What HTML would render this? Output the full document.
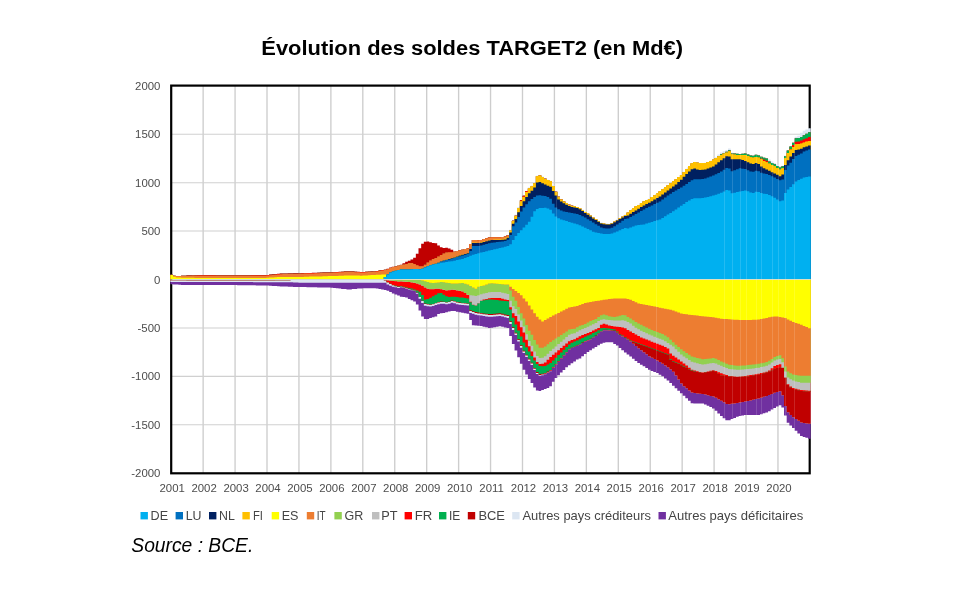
<!DOCTYPE html>
<html><head><meta charset="utf-8"><title>TARGET2</title>
<style>
html,body{margin:0;padding:0;background:#fff;}
body{width:957px;height:598px;overflow:hidden;font-family:"Liberation Sans",sans-serif;}
svg{display:block;will-change:transform;}
text{font-family:"Liberation Sans",sans-serif;}
</style></head><body>
<svg width="957" height="598" viewBox="0 0 957 598">
<rect width="957" height="598" fill="#ffffff"/>
<text x="261.3" y="55.2" font-size="19.6" font-weight="bold" fill="#000" textLength="421.8" lengthAdjust="spacingAndGlyphs">Évolution des soldes TARGET2 (en Md€)</text>
<g stroke="#d0d0d0" stroke-width="1.05">
<line x1="203.13" y1="85.8" x2="203.13" y2="473.2" stroke-width="1.35" stroke="#cdcdcd"/>
<line x1="235.07" y1="85.8" x2="235.07" y2="473.2" stroke-width="1.35" stroke="#cdcdcd"/>
<line x1="267.00" y1="85.8" x2="267.00" y2="473.2" stroke-width="1.35" stroke="#cdcdcd"/>
<line x1="298.94" y1="85.8" x2="298.94" y2="473.2" stroke-width="1.35" stroke="#cdcdcd"/>
<line x1="330.88" y1="85.8" x2="330.88" y2="473.2" stroke-width="1.35" stroke="#cdcdcd"/>
<line x1="362.81" y1="85.8" x2="362.81" y2="473.2" stroke-width="1.35" stroke="#cdcdcd"/>
<line x1="394.75" y1="85.8" x2="394.75" y2="473.2" stroke-width="1.35" stroke="#cdcdcd"/>
<line x1="426.68" y1="85.8" x2="426.68" y2="473.2" stroke-width="1.35" stroke="#cdcdcd"/>
<line x1="458.62" y1="85.8" x2="458.62" y2="473.2" stroke-width="1.35" stroke="#cdcdcd"/>
<line x1="490.55" y1="85.8" x2="490.55" y2="473.2" stroke-width="1.35" stroke="#cdcdcd"/>
<line x1="522.49" y1="85.8" x2="522.49" y2="473.2" stroke-width="1.35" stroke="#cdcdcd"/>
<line x1="554.42" y1="85.8" x2="554.42" y2="473.2" stroke-width="1.35" stroke="#cdcdcd"/>
<line x1="586.36" y1="85.8" x2="586.36" y2="473.2" stroke-width="1.35" stroke="#cdcdcd"/>
<line x1="618.29" y1="85.8" x2="618.29" y2="473.2" stroke-width="1.35" stroke="#cdcdcd"/>
<line x1="650.23" y1="85.8" x2="650.23" y2="473.2" stroke-width="1.35" stroke="#cdcdcd"/>
<line x1="682.16" y1="85.8" x2="682.16" y2="473.2" stroke-width="1.35" stroke="#cdcdcd"/>
<line x1="714.10" y1="85.8" x2="714.10" y2="473.2" stroke-width="1.35" stroke="#cdcdcd"/>
<line x1="746.03" y1="85.8" x2="746.03" y2="473.2" stroke-width="1.35" stroke="#cdcdcd"/>
<line x1="777.97" y1="85.8" x2="777.97" y2="473.2" stroke-width="1.35" stroke="#cdcdcd"/>
<line x1="171.2" y1="134.22" x2="809.9" y2="134.22"/>
<line x1="171.2" y1="182.65" x2="809.9" y2="182.65"/>
<line x1="171.2" y1="231.07" x2="809.9" y2="231.07"/>
<line x1="171.2" y1="279.50" x2="809.9" y2="279.50"/>
<line x1="171.2" y1="327.93" x2="809.9" y2="327.93"/>
<line x1="171.2" y1="376.35" x2="809.9" y2="376.35"/>
<line x1="171.2" y1="424.77" x2="809.9" y2="424.77"/>
</g>
<rect x="171.2" y="85.6" width="638.5" height="387.7" fill="none" stroke="#000" stroke-width="2.2"/>
<defs><clipPath id="cp"><path d="M170.40,279.5V274.8H173.07V275.7H175.74V276H178.40V275.9H181.07V275.8H183.74V275.7H186.41V275.6H189.08V275.5H191.74V275.4H194.41V275.3H197.08V275.2H199.75V275.1H213.09V275.2H226.43V275.3H242.43V275.2H255.77V275.1H266.45V274.9H269.11V274.6H271.78V274.3H274.45V274H277.12V273.8H279.78V273.6H282.45V273.5H287.79V273.4H293.12V273.3H295.79V273.2H301.13V273.1H303.80V273H309.13V272.9H311.80V272.8H314.47V272.7H319.80V272.6H322.47V272.5H325.14V272.4H330.48V272.3H333.14V272.1H335.81V272H338.48V271.8H341.15V271.7H343.81V271.5H346.48V271.4H351.82V271.5H354.49V271.7H357.15V271.8H359.82V271.9H365.16V271.8H367.83V271.6H370.49V271.5H373.16V271.4H375.83V271H378.50V270.6H381.17V270.1H383.83V269.7H386.50V268.8H389.17V267.5H391.84V266.7H394.51V266.6H397.17V265.8H399.84V264.8H402.51V263.2H405.18V261.8H407.84V260.7H410.51V259.5H413.18V257.7H415.85V253.7H418.52V248.3H421.18V243.7H423.85V241.7H426.52V241.6H429.19V242.3H431.86V242.9H434.52V243.3H437.19V245.4H439.86V247.3H442.53V247.9H445.20V247.8H447.86V248.5H450.53V249.7H453.20V251.7H455.87V250.9H458.54V250.2H461.20V249.7H463.87V249.1H466.54V248.6H469.21V244.1H471.87V240H474.54V240.1H477.21V240.2H479.88V239.9H482.55V239.1H485.21V238.3H487.88V237.5H490.55V237.3H501.22V236.9H503.89V236.6H506.56V235H509.23V229.8H511.89V220.1H514.56V214.8H517.23V207H519.90V200.3H522.57V195.7H525.23V191H527.90V187.4H530.57V185.6H533.24V182.8H535.90V175.8H538.57V175.1H541.24V176.6H543.91V178.4H546.58V179.7H549.24V180.8H551.91V185.6H554.58V191.3H557.25V196.4H559.92V199.1H562.58V201.1H565.25V202.8H567.92V204.5H570.59V205.6H573.26V206.2H575.92V206.9H578.59V208.1H581.26V209.8H583.93V211.5H586.60V213.3H589.26V215.3H591.93V217.3H594.60V219.1H597.27V220.8H599.93V222.5H602.60V223.3H605.27V223.5H607.94V223.7H610.61V223H613.27V221.3H615.94V219.6H618.61V218H621.28V216.4H623.95V214.6H626.61V212.5H629.28V210.4H631.95V208.4H634.62V206.4H637.29V204.8H639.95V203.1H642.62V201.4H645.29V200.1H647.96V198.7H650.63V197H653.29V195.2H655.96V193.3H658.63V191.4H661.30V189.4H663.96V187.4H666.63V185.4H669.30V183.4H671.97V181.4H674.64V179.4H677.30V177.1H679.97V174.7H682.64V171.8H685.31V168.8H687.98V166H690.64V163.2H693.31V162.1H695.98V162.6H698.65V163.1H701.32V163H703.98V162.7H706.65V161.9H709.32V160.7H711.99V159.5H714.66V157.2H717.32V154.5H719.99V152.5H722.66V151.2H725.33V149.9H727.99V148.6H730.66V152.5H733.33V153.1H736.00V153.7H738.67V154.2H741.33V153.8H744.00V153.3H746.67V154.2H749.34V155.5H752.01V155.7H754.67V154.7H757.34V155.1H760.01V156.7H762.68V157.7H765.35V158.4H768.01V159.6H770.68V161.4H773.35V163.1H776.02V164.6H778.69V166.1H781.35V165.8H784.02V155.6H786.69V150.2H789.36V146.6H792.02V142.8H794.69V136.8H797.36V135.7H800.03V132.7H802.70V130.7H805.36V129.5H808.03V128.2H810.70V279.5Z"/><path d="M170.40,279.5V284.3H173.07V284.5H175.74V284.6H178.40V284.8H181.07V284.9H202.42V285H221.09V285.1H237.10V285.2H245.10V285.3H255.77V285.4H263.78V285.5H266.45V285.6H269.11V285.8H271.78V285.9H274.45V286.1H277.12V286.3H279.78V286.4H282.45V286.5H285.12V286.6H287.79V286.7H290.46V286.8H293.12V286.9H295.79V287H301.13V287.1H306.46V287.2H311.80V287.3H317.14V287.4H319.80V287.5H325.14V287.6H330.48V287.8H333.14V288H335.81V288.3H338.48V288.6H341.15V288.9H343.81V289.1H346.48V289.4H351.82V289.1H354.49V288.9H357.15V288.6H359.82V288.4H362.49V288.3H375.83V288.6H378.50V289H381.17V289.5H383.83V289.9H386.50V290.8H389.17V292.1H391.84V293.4H394.51V294.4H397.17V295.5H399.84V296.7H402.51V297H405.18V297.6H407.84V298.9H410.51V300.3H413.18V301.6H415.85V304.5H418.52V310.4H421.18V316.5H423.85V319.1H426.52V319H429.19V318H431.86V317.2H434.52V316.5H437.19V314H439.86V313.2H442.53V312.9H445.20V312.3H447.86V311.6H450.53V311H453.20V311.1H455.87V311.7H458.54V312.2H461.20V312.7H463.87V313.3H466.54V313.8H469.21V320.1H471.87V325.3H474.54V325.6H477.21V325.8H479.88V326.1H482.55V326.7H485.21V327.3H487.88V328H490.55V327.8H493.22V327.3H495.89V326.8H498.55V326.2H501.22V326.8H503.89V327.5H506.56V328.1H509.23V336.1H511.89V343.9H514.56V350.6H517.23V357.3H519.90V363.7H522.57V369.7H525.23V374.5H527.90V378.9H530.57V382.9H533.24V387.5H535.90V390.6H538.57V391H541.24V390.1H543.91V389H546.58V387.9H549.24V386.3H551.91V381.8H554.58V377.9H557.25V375.2H559.92V372.5H562.58V369.9H565.25V367.2H567.92V365.2H570.59V363.3H573.26V361.4H575.92V359.5H578.59V358.6H581.26V356.3H583.93V354H586.60V351.9H589.26V350.3H591.93V348.6H594.60V346.9H597.27V345.3H599.93V343.8H602.60V342.7H605.27V342.2H610.61V342.3H613.27V343.9H615.94V345.6H618.61V347.9H621.28V350.3H623.95V352.4H626.61V354.4H629.28V356.4H631.95V358.8H634.62V361.1H637.29V363H639.95V364.7H642.62V366.3H645.29V368H647.96V369.7H650.63V370.9H653.29V371.9H655.96V373H658.63V374.7H661.30V376.3H663.96V378.4H666.63V380.6H669.30V383.1H671.97V385.8H674.64V388.3H677.30V390.8H679.97V393.3H682.64V395.8H685.31V398.3H687.98V400.7H690.64V403.2H693.31V403.4H703.98V404.6H706.65V405.8H709.32V407.1H711.99V408.4H714.66V410.7H717.32V413.5H719.99V416H722.66V418.2H725.33V420.3H727.99V420.2H730.66V419.1H733.33V417.9H736.00V416.8H738.67V416.1H741.33V415.6H744.00V415.1H746.67V415H760.01V414.2H762.68V413.3H765.35V412.5H768.01V411.2H770.68V409.6H773.35V408H776.02V406.6H778.69V405.3H781.35V407.4H784.02V415.4H786.69V422.8H789.36V425.5H792.02V428.1H794.69V430.8H797.36V433.5H800.03V436.1H802.70V437H805.36V437.8H808.03V438.7H810.70V279.5Z"/></clipPath></defs>
<g>
<path fill="#dce6f2" d="M170.40,279.5V274.8H173.07V275.7H175.74V276H178.40V275.9H181.07V275.8H183.74V275.7H186.41V275.6H189.08V275.5H191.74V275.4H194.41V275.3H197.08V275.2H199.75V275.1H213.09V275.2H226.43V275.3H242.43V275.2H255.77V275.1H266.45V274.9H269.11V274.6H271.78V274.3H274.45V274H277.12V273.8H279.78V273.6H282.45V273.5H287.79V273.4H293.12V273.3H295.79V273.2H301.13V273.1H303.80V273H309.13V272.9H311.80V272.8H314.47V272.7H319.80V272.6H322.47V272.5H325.14V272.4H330.48V272.3H333.14V272.1H335.81V272H338.48V271.8H341.15V271.7H343.81V271.5H346.48V271.4H351.82V271.5H354.49V271.7H357.15V271.8H359.82V271.9H365.16V271.8H367.83V271.6H370.49V271.5H373.16V271.4H375.83V271H378.50V270.6H381.17V270.1H383.83V269.7H386.50V268.8H389.17V267.5H391.84V266.7H394.51V266.6H397.17V265.8H399.84V264.8H402.51V263.2H405.18V261.8H407.84V260.7H410.51V259.5H413.18V257.7H415.85V253.7H418.52V248.3H421.18V243.7H423.85V241.7H426.52V241.6H429.19V242.3H431.86V242.9H434.52V243.3H437.19V245.4H439.86V247.3H442.53V247.9H445.20V247.8H447.86V248.5H450.53V249.7H453.20V251.7H455.87V250.9H458.54V250.2H461.20V249.7H463.87V249.1H466.54V248.6H469.21V244.1H471.87V240H474.54V240.1H477.21V240.2H479.88V239.9H482.55V239.1H485.21V238.3H487.88V237.5H490.55V237.3H501.22V236.9H503.89V236.6H506.56V235H509.23V229.8H511.89V220.1H514.56V214.8H517.23V207H519.90V200.3H522.57V195.7H525.23V191H527.90V187.4H530.57V185.6H533.24V182.8H535.90V175.8H538.57V175.1H541.24V176.6H543.91V178.4H546.58V179.7H549.24V180.8H551.91V185.6H554.58V191.3H557.25V196.4H559.92V199.1H562.58V201.1H565.25V202.8H567.92V204.5H570.59V205.6H573.26V206.2H575.92V206.9H578.59V208.1H581.26V209.8H583.93V211.5H586.60V213.3H589.26V215.3H591.93V217.3H594.60V219.1H597.27V220.8H599.93V222.5H602.60V223.3H605.27V223.5H607.94V223.7H610.61V223H613.27V221.3H615.94V219.6H618.61V218H621.28V216.4H623.95V214.6H626.61V212.5H629.28V210.4H631.95V208.4H634.62V206.4H637.29V204.8H639.95V203.1H642.62V201.4H645.29V200.1H647.96V198.7H650.63V197H653.29V195.2H655.96V193.3H658.63V191.4H661.30V189.4H663.96V187.4H666.63V185.4H669.30V183.4H671.97V181.4H674.64V179.4H677.30V177.1H679.97V174.7H682.64V171.8H685.31V168.8H687.98V166H690.64V163.2H693.31V162.1H695.98V162.6H698.65V163.1H701.32V163H703.98V162.7H706.65V161.9H709.32V160.7H711.99V159.5H714.66V157.2H717.32V154.5H719.99V152.5H722.66V151.2H725.33V149.9H727.99V148.6H730.66V152.5H733.33V153.1H736.00V153.7H738.67V154.2H741.33V153.8H744.00V153.3H746.67V154.2H749.34V155.5H752.01V155.7H754.67V154.7H757.34V155.1H760.01V156.7H762.68V157.7H765.35V158.4H768.01V159.6H770.68V161.4H773.35V163.1H776.02V164.6H778.69V166.1H781.35V165.8H784.02V155.6H786.69V150.2H789.36V146.6H792.02V142.8H794.69V136.8H797.36V135.7H800.03V132.7H802.70V130.7H805.36V129.5H808.03V128.2H810.70V279.5Z"/>
<path fill="#c00000" d="M170.40,279.5V274.8H173.07V275.7H175.74V276H178.40V275.9H181.07V275.8H183.74V275.7H186.41V275.6H189.08V275.5H191.74V275.4H194.41V275.3H197.08V275.2H199.75V275.1H213.09V275.2H226.43V275.3H242.43V275.2H255.77V275.1H266.45V274.9H269.11V274.6H271.78V274.3H274.45V274H277.12V273.8H279.78V273.6H282.45V273.5H287.79V273.4H293.12V273.3H295.79V273.2H301.13V273.1H303.80V273H309.13V272.9H311.80V272.8H314.47V272.7H319.80V272.6H322.47V272.5H325.14V272.4H330.48V272.3H333.14V272.1H335.81V272H338.48V271.8H341.15V271.7H343.81V271.5H346.48V271.4H351.82V271.5H354.49V271.7H357.15V271.8H359.82V271.9H365.16V271.8H367.83V271.6H370.49V271.5H373.16V271.4H375.83V271H378.50V270.6H381.17V270.1H383.83V269.7H386.50V268.8H389.17V267.5H391.84V266.7H394.51V266.6H397.17V265.8H399.84V264.8H402.51V263.2H405.18V261.8H407.84V260.7H410.51V259.5H413.18V257.7H415.85V253.7H418.52V248.3H421.18V243.7H423.85V241.7H426.52V241.6H429.19V242.3H431.86V242.9H434.52V243.3H437.19V245.4H439.86V247.3H442.53V247.9H445.20V247.8H447.86V248.5H450.53V249.7H453.20V251.7H455.87V250.9H458.54V250.2H461.20V249.7H463.87V249.1H466.54V248.6H469.21V244.1H471.87V240H474.54V240.1H477.21V240.2H479.88V239.9H482.55V239.1H485.21V238.3H487.88V237.5H490.55V237.3H501.22V236.9H503.89V236.6H506.56V235.2H509.23V230.7H511.89V220.8H514.56V215.8H517.23V208.1H519.90V200.3H522.57V195.7H525.23V191H527.90V188.4H530.57V186.5H533.24V183.4H535.90V176.3H538.57V175.6H541.24V177H543.91V178.8H546.58V180.2H549.24V181.2H551.91V186.1H554.58V191.8H557.25V196.8H559.92V199.5H562.58V201.5H565.25V203.1H567.92V204.7H570.59V205.8H573.26V206.5H575.92V207.3H578.59V208.5H581.26V210.2H583.93V211.9H586.60V213.7H589.26V215.7H591.93V217.7H594.60V219.5H597.27V221.2H599.93V222.9H602.60V223.7H605.27V223.9H607.94V224.1H610.61V223.4H613.27V221.7H615.94V220H618.61V218.4H621.28V216.8H623.95V215H626.61V212.7H629.28V210.6H631.95V208.6H634.62V206.6H637.29V205H639.95V203.3H642.62V201.6H645.29V200.3H647.96V198.9H650.63V197.2H653.29V195.4H655.96V193.5H658.63V191.6H661.30V189.6H663.96V187.6H666.63V185.6H669.30V183.6H671.97V181.6H674.64V179.6H677.30V177.3H679.97V174.9H682.64V172H685.31V169H687.98V166.2H690.64V163.4H693.31V162.3H695.98V162.8H698.65V163.3H701.32V163.2H703.98V162.9H706.65V162.1H709.32V160.9H711.99V159.7H714.66V158H717.32V156H719.99V154.3H722.66V153H725.33V151.7H727.99V150.3H730.66V153.4H733.33V153.6H736.00V153.7H738.67V154.2H741.33V153.8H744.00V153.5H746.67V154.4H749.34V155.6H752.01V155.8H754.67V154.8H757.34V155.4H760.01V156.7H762.68V157.7H765.35V158.4H768.01V161.5H770.68V162.9H773.35V164.3H776.02V165.9H778.69V167.5H781.35V166.2H784.02V156.2H786.69V150.5H789.36V146.6H792.02V142.8H794.69V138.3H797.36V137.9H800.03V136.9H802.70V135.3H805.36V133.7H808.03V132.2H810.70V279.5Z"/>
<path fill="#00b050" d="M170.40,279.5V274.8H173.07V275.7H175.74V276H178.40V275.9H181.07V275.8H183.74V275.7H186.41V275.6H189.08V275.5H191.74V275.4H197.08V275.3H215.75V275.4H250.44V275.3H266.45V275.1H269.11V274.8H271.78V274.5H274.45V274.3H277.12V274H279.78V273.8H282.45V273.7H287.79V273.6H293.12V273.5H298.46V273.4H301.13V273.3H303.80V273.2H306.46V273.1H311.80V273H314.47V272.9H317.14V272.8H319.80V272.7H322.47V272.6H327.81V272.5H330.48V272.4H333.14V272.2H335.81V272.1H338.48V271.9H341.15V271.8H343.81V271.6H346.48V271.5H351.82V271.6H354.49V271.8H357.15V271.9H359.82V272H365.16V271.8H367.83V271.7H370.49V271.5H373.16V271.4H375.83V271H378.50V270.6H381.17V270.1H383.83V269.8H386.50V269.1H389.17V267.9H391.84V267.1H394.51V266.6H397.17V265.8H399.84V265.1H402.51V264.6H405.18V263.9H407.84V263.1H410.51V263H413.18V264.1H415.85V265.2H418.52V266.3H423.85V264.8H426.52V262.6H429.19V260.5H431.86V258.9H434.52V257.9H437.19V256.5H439.86V254.9H442.53V253.6H445.20V252.5H447.86V252.2H453.20V251.7H455.87V250.9H458.54V250.2H461.20V249.7H463.87V249.1H466.54V248.6H469.21V244.1H471.87V240H474.54V240.1H477.21V240.2H479.88V239.9H482.55V239.1H485.21V238.3H487.88V237.5H490.55V237.3H501.22V236.9H503.89V236.6H506.56V235.2H509.23V230.7H511.89V220.8H514.56V215.8H517.23V208.1H519.90V200.3H522.57V195.7H525.23V191H527.90V188.4H530.57V186.5H533.24V183.4H535.90V176.3H538.57V175.6H541.24V177H543.91V178.8H546.58V180.2H549.24V181.2H551.91V186.1H554.58V191.8H557.25V196.8H559.92V199.5H562.58V201.5H565.25V203.1H567.92V204.7H570.59V205.8H573.26V206.5H575.92V207.3H578.59V208.5H581.26V210.2H583.93V211.9H586.60V213.7H589.26V215.7H591.93V217.7H594.60V219.5H597.27V221.2H599.93V222.9H602.60V223.7H605.27V223.9H607.94V224.1H610.61V223.4H613.27V221.7H615.94V220H618.61V218.4H621.28V216.8H623.95V215H626.61V212.7H629.28V210.6H631.95V208.6H634.62V206.6H637.29V205H639.95V203.3H642.62V201.6H645.29V200.3H647.96V198.9H650.63V197.2H653.29V195.4H655.96V193.5H658.63V191.6H661.30V189.6H663.96V187.6H666.63V185.6H669.30V183.6H671.97V181.6H674.64V179.6H677.30V177.3H679.97V174.9H682.64V172H685.31V169H687.98V166.2H690.64V163.4H693.31V162.3H695.98V162.8H698.65V163.3H701.32V163.2H703.98V162.9H706.65V162.1H709.32V160.9H711.99V159.7H714.66V158H717.32V156H719.99V154.3H722.66V153H725.33V151.7H727.99V150.3H730.66V153.4H733.33V153.6H736.00V153.7H738.67V154.2H741.33V153.8H744.00V153.5H746.67V154.4H749.34V155.6H752.01V155.8H754.67V154.8H757.34V155.4H760.01V156.7H762.68V157.7H765.35V158.4H768.01V161.5H770.68V162.9H773.35V164.3H776.02V165.9H778.69V167.5H781.35V166.2H784.02V156.2H786.69V150.5H789.36V146.6H792.02V142.8H794.69V138.3H797.36V137.9H800.03V136.9H802.70V135.3H805.36V133.7H808.03V132.2H810.70V279.5Z"/>
<path fill="#ff0000" d="M170.40,279.5V274.8H173.07V275.7H175.74V276H178.40V275.9H181.07V275.8H183.74V275.7H186.41V275.6H189.08V275.5H191.74V275.4H197.08V275.3H215.75V275.4H250.44V275.3H266.45V275.1H269.11V274.8H271.78V274.5H274.45V274.3H277.12V274H279.78V273.8H282.45V273.7H287.79V273.6H293.12V273.5H298.46V273.4H301.13V273.3H303.80V273.2H306.46V273.1H311.80V273H314.47V272.9H317.14V272.8H319.80V272.7H322.47V272.6H327.81V272.5H330.48V272.4H333.14V272.2H335.81V272.1H338.48V271.9H341.15V271.8H343.81V271.6H346.48V271.5H351.82V271.6H354.49V271.8H357.15V271.9H359.82V272H365.16V271.8H367.83V271.7H370.49V271.5H373.16V271.4H375.83V271H378.50V270.6H381.17V270.1H383.83V269.8H386.50V269.1H389.17V267.9H391.84V267.1H394.51V266.6H397.17V265.8H399.84V265.1H402.51V264.6H405.18V263.9H407.84V263.1H410.51V263H413.18V264.1H415.85V265.2H418.52V266.3H423.85V264.8H426.52V262.6H429.19V260.5H431.86V258.9H434.52V257.9H437.19V256.5H439.86V254.9H442.53V253.6H445.20V252.5H447.86V252.2H453.20V251.7H455.87V250.9H458.54V250.2H461.20V249.7H463.87V249.1H466.54V248.6H469.21V244.1H471.87V240H474.54V240.1H477.21V240.2H479.88V239.9H482.55V239.1H485.21V238.3H487.88V237.5H490.55V237.3H501.22V236.9H503.89V236.6H506.56V235.2H509.23V230.7H511.89V220.8H514.56V215.8H517.23V208.1H519.90V200.3H522.57V195.7H525.23V191H527.90V188.4H530.57V186.5H533.24V183.4H535.90V176.3H538.57V175.6H541.24V177H543.91V178.8H546.58V180.2H549.24V181.2H551.91V186.1H554.58V191.8H557.25V196.8H559.92V199.5H562.58V201.5H565.25V203.1H567.92V204.7H570.59V205.8H573.26V206.5H575.92V207.3H578.59V208.5H581.26V210.2H583.93V211.9H586.60V213.7H589.26V215.7H591.93V217.7H594.60V219.5H597.27V221.2H599.93V222.9H602.60V223.7H605.27V223.9H607.94V224.1H610.61V223.4H613.27V221.7H615.94V220H618.61V218.4H621.28V216.8H623.95V215H626.61V212.7H629.28V210.6H631.95V208.6H634.62V206.6H637.29V205H639.95V203.3H642.62V201.6H645.29V200.3H647.96V198.9H650.63V197.2H653.29V195.4H655.96V193.5H658.63V191.6H661.30V189.6H663.96V187.6H666.63V185.6H669.30V183.6H671.97V181.6H674.64V179.6H677.30V177.3H679.97V174.9H682.64V172H685.31V169H687.98V166.2H690.64V163.4H693.31V162.3H695.98V162.8H698.65V163.3H701.32V163.2H703.98V162.9H706.65V162.1H709.32V160.9H711.99V159.7H714.66V158.1H717.32V156.4H719.99V155H722.66V153.8H725.33V152.7H727.99V151.4H730.66V154.6H733.33V154.8H736.00V155H738.67V155.2H746.67V156.2H749.34V157.5H752.01V157.8H754.67V157H757.34V157.7H760.01V158.4H762.68V159.4H765.35V160.7H768.01V163.8H770.68V165.2H773.35V166.5H776.02V168.1H778.69V169.7H781.35V168.5H784.02V158.6H786.69V153.2H789.36V149.3H792.02V145H794.69V141.8H797.36V141.4H800.03V140.6H802.70V139.3H805.36V138.2H808.03V137H810.70V279.5Z"/>
<path fill="#ed7d31" d="M170.40,279.5V275.1H173.07V276.1H181.07V276H186.41V275.9H191.74V275.8H197.08V275.7H215.75V275.8H250.44V275.7H266.45V275.5H269.11V275.2H271.78V274.9H274.45V274.7H277.12V274.4H279.78V274.2H282.45V274.1H287.79V274H293.12V273.9H298.46V273.8H301.13V273.7H303.80V273.6H306.46V273.5H311.80V273.4H314.47V273.3H317.14V273.2H319.80V273.1H322.47V273H327.81V272.9H330.48V272.8H333.14V272.6H335.81V272.5H338.48V272.3H341.15V272.2H343.81V272H346.48V271.9H351.82V272H354.49V272.2H357.15V272.3H359.82V272.4H365.16V272.2H367.83V272.1H370.49V271.9H373.16V271.8H375.83V271.4H378.50V271H381.17V270.5H383.83V270.1H386.50V269.2H389.17V267.9H391.84V267.1H394.51V266.6H397.17V265.8H399.84V265.1H402.51V264.6H405.18V263.9H407.84V263.1H410.51V263H413.18V264.1H415.85V265.2H418.52V266.3H423.85V264.8H426.52V262.6H429.19V260.5H431.86V258.9H434.52V257.9H437.19V256.5H439.86V254.9H442.53V253.6H445.20V252.5H447.86V252.2H453.20V251.7H455.87V250.9H458.54V250.2H461.20V249.7H463.87V249.1H466.54V248.6H469.21V244.1H471.87V240H474.54V240.1H477.21V240.2H479.88V239.9H482.55V239.1H485.21V238.3H487.88V237.5H490.55V237.3H501.22V236.9H503.89V236.6H506.56V235.2H509.23V230.7H511.89V220.8H514.56V215.8H517.23V208.1H519.90V201.4H522.57V196.7H525.23V192H527.90V188.4H530.57V186.5H533.24V183.4H535.90V176.3H538.57V175.6H541.24V177H543.91V178.8H546.58V180.2H549.24V181.2H551.91V186.1H554.58V191.8H557.25V196.8H559.92V199.5H562.58V201.5H565.25V203.1H567.92V204.7H570.59V205.8H573.26V206.5H575.92V207.3H578.59V208.5H581.26V210.2H583.93V211.9H586.60V213.7H589.26V215.7H591.93V217.7H594.60V219.5H597.27V221.2H599.93V222.9H602.60V223.7H605.27V223.9H607.94V224.1H610.61V223.4H613.27V221.7H615.94V220H618.61V218.4H621.28V216.8H623.95V215H626.61V212.7H629.28V210.6H631.95V208.6H634.62V206.6H637.29V205H639.95V203.3H642.62V201.6H645.29V200.3H647.96V198.9H650.63V197.2H653.29V195.4H655.96V193.5H658.63V191.6H661.30V189.6H663.96V187.6H666.63V185.6H669.30V183.6H671.97V181.6H674.64V179.6H677.30V177.3H679.97V174.9H682.64V172H685.31V169H687.98V166.2H690.64V163.4H693.31V162.3H695.98V162.8H698.65V163.3H701.32V163.2H703.98V162.9H706.65V162.1H709.32V160.9H711.99V159.7H714.66V158.1H717.32V156.4H719.99V155H722.66V153.8H725.33V152.7H727.99V151.4H730.66V154.6H733.33V154.8H736.00V155H738.67V155.2H746.67V156.2H749.34V157.5H752.01V157.8H754.67V157H757.34V157.7H760.01V159.6H762.68V161.2H765.35V162.5H768.01V163.8H770.68V165.2H773.35V166.5H776.02V168.1H778.69V169.7H781.35V168.5H784.02V158.6H786.69V153.2H789.36V149.8H792.02V147.1H794.69V144.5H797.36V144.3H800.03V143.7H802.70V142.7H805.36V141.8H808.03V140.9H810.70V279.5Z"/>
<path fill="#ffff00" d="M170.40,279.5V275.1H173.07V276.8H175.74V277.6H181.07V277.7H189.08V277.8H194.41V277.9H202.42V278H226.43V278.1H239.77V278H263.78V277.9H266.45V277.8H269.11V277.6H271.78V277.4H274.45V277.3H277.12V277.1H279.78V277H298.46V276.9H303.80V276.8H306.46V276.7H309.13V276.6H314.47V276.5H317.14V276.4H322.47V276.3H325.14V276.2H327.81V276.1H330.48V276H335.81V275.9H338.48V275.8H341.15V275.7H343.81V275.6H346.48V275.5H354.49V275.6H359.82V275.7H362.49V275.6H365.16V275.4H367.83V275.3H370.49V275.1H373.16V274.9H375.83V274.8H378.50V274.7H381.17V274.6H383.83V274.5H386.50V273.9H389.17V272.4H391.84V271.6H394.51V270.7H397.17V270H399.84V269.4H410.51V269.3H413.18V269H418.52V269.3H421.18V268.8H423.85V267.5H426.52V266.3H429.19V265.2H431.86V264.4H434.52V263.7H437.19V262.8H439.86V261.5H442.53V260.6H445.20V259.8H447.86V259H450.53V258.3H453.20V257.4H455.87V256.4H458.54V255.6H461.20V254.8H463.87V254H466.54V253.2H469.21V248.9H471.87V242.7H474.54V242.8H477.21V242.9H479.88V242.6H482.55V241.8H485.21V241H487.88V240.2H490.55V239.9H493.22V239.8H498.55V239.7H501.22V239.3H503.89V238.8H506.56V236.9H509.23V230.7H511.89V220.9H514.56V215.9H517.23V208.2H519.90V201.5H522.57V196.9H525.23V192.2H527.90V188.6H530.57V186.6H533.24V183.5H535.90V176.4H538.57V175.7H541.24V177.2H543.91V179H546.58V180.3H549.24V181.4H551.91V186.2H554.58V191.9H557.25V197H559.92V199.7H562.58V201.7H565.25V203.3H567.92V204.9H570.59V206H573.26V206.6H575.92V207.3H578.59V208.5H581.26V210.2H583.93V211.9H586.60V213.7H589.26V215.7H591.93V217.7H594.60V219.5H597.27V221.2H599.93V222.9H602.60V223.7H605.27V223.9H607.94V224.1H610.61V223.4H613.27V221.7H615.94V220H618.61V218.4H621.28V216.8H623.95V215H626.61V212.7H629.28V210.6H631.95V208.6H634.62V206.6H637.29V205H639.95V203.3H642.62V201.6H645.29V200.3H647.96V198.9H650.63V197.2H653.29V195.4H655.96V193.5H658.63V191.6H661.30V189.6H663.96V187.6H666.63V185.6H669.30V183.6H671.97V181.6H674.64V179.6H677.30V177.3H679.97V174.9H682.64V172H685.31V169H687.98V166.2H690.64V163.4H693.31V162.3H695.98V162.8H698.65V163.3H701.32V163.2H703.98V162.9H706.65V162.1H709.32V160.9H711.99V159.7H714.66V158.1H717.32V156.4H719.99V155H722.66V153.8H725.33V152.7H727.99V151.4H730.66V154.6H733.33V154.8H736.00V155H738.67V155.2H746.67V156.2H749.34V157.5H752.01V157.8H754.67V157H757.34V157.7H760.01V159.6H762.68V161.2H765.35V162.5H768.01V163.8H770.68V165.2H773.35V166.5H776.02V168.1H778.69V169.7H781.35V168.5H784.02V158.6H786.69V153.2H789.36V149.8H792.02V147.1H794.69V144.5H797.36V144.3H800.03V143.7H802.70V142.7H805.36V141.8H808.03V140.9H810.70V279.5Z"/>
<path fill="#ffc000" d="M170.40,279.5V279.3H205.08V279.2H277.12V279.1H346.48V279H383.83V277H386.50V274.5H389.17V272.4H391.84V271.6H394.51V270.8H397.17V270H399.84V269.4H410.51V269.3H413.18V269H418.52V269.3H421.18V268.8H423.85V267.5H426.52V266.3H429.19V265.2H431.86V264.4H434.52V263.7H437.19V262.8H439.86V261.5H442.53V260.6H445.20V259.8H447.86V259H450.53V258.3H453.20V257.4H455.87V256.4H458.54V255.6H461.20V254.8H463.87V254H466.54V253.2H469.21V248.9H471.87V242.7H474.54V242.8H477.21V242.9H479.88V242.6H482.55V241.8H485.21V241H487.88V240.2H490.55V239.9H493.22V239.8H498.55V239.7H501.22V239.3H503.89V238.8H506.56V236.9H509.23V230.7H511.89V220.9H514.56V215.9H517.23V208.2H519.90V201.5H522.57V196.9H525.23V192.2H527.90V188.6H530.57V186.6H533.24V183.5H535.90V176.4H538.57V175.7H541.24V177.2H543.91V179H546.58V180.3H549.24V181.4H551.91V186.2H554.58V191.9H557.25V197H559.92V199.7H562.58V201.7H565.25V203.3H567.92V204.9H570.59V206H573.26V206.6H575.92V207.3H578.59V208.5H581.26V210.2H583.93V211.9H586.60V213.7H589.26V215.7H591.93V217.7H594.60V219.5H597.27V221.2H599.93V222.9H602.60V223.7H605.27V223.9H607.94V224.1H610.61V223.4H613.27V221.7H615.94V220H618.61V218.4H621.28V216.8H623.95V215H626.61V212.7H629.28V210.6H631.95V208.6H634.62V206.6H637.29V205H639.95V203.3H642.62V201.6H645.29V200.3H647.96V198.9H650.63V197.2H653.29V195.4H655.96V193.5H658.63V191.6H661.30V189.6H663.96V187.6H666.63V185.6H669.30V183.6H671.97V181.6H674.64V179.6H677.30V177.3H679.97V174.9H682.64V172H685.31V169H687.98V166.2H690.64V163.4H693.31V162.3H695.98V162.8H698.65V163.3H701.32V163.2H703.98V162.9H706.65V162.1H709.32V160.9H711.99V159.7H714.66V158.1H717.32V156.4H719.99V155H722.66V153.8H725.33V152.7H727.99V151.4H730.66V154.6H733.33V154.8H736.00V155H738.67V155.2H746.67V156.2H749.34V157.5H752.01V157.8H754.67V157H757.34V157.7H760.01V159.6H762.68V161.2H765.35V162.5H768.01V163.8H770.68V165.2H773.35V166.5H776.02V168.1H778.69V169.7H781.35V168.5H784.02V158.6H786.69V153.2H789.36V149.8H792.02V147.1H794.69V144.5H797.36V144.3H800.03V143.7H802.70V142.7H805.36V141.8H808.03V140.9H810.70V279.5Z"/>
<path fill="#002060" d="M170.40,279.5V279.3H205.08V279.2H277.12V279.1H346.48V279H383.83V277H386.50V274.5H389.17V272.4H391.84V271.6H394.51V270.8H397.17V270H399.84V269.4H410.51V269.3H413.18V269H418.52V269.3H421.18V268.8H423.85V267.5H426.52V266.3H429.19V265.2H431.86V264.4H434.52V263.7H437.19V262.8H439.86V261.5H442.53V260.6H445.20V259.8H447.86V259H450.53V258.3H453.20V257.4H455.87V256.4H458.54V255.6H461.20V254.8H463.87V254H466.54V253.2H469.21V248.9H471.87V242.9H474.54V243H477.21V243.1H479.88V242.8H482.55V242H485.21V241.2H487.88V240.4H490.55V240.1H501.22V239.8H503.89V239.4H506.56V237.8H509.23V232.5H511.89V223.7H514.56V219.1H517.23V212.2H519.90V206H522.57V201.3H525.23V196.9H527.90V193.2H530.57V190.7H533.24V187.5H535.90V182.4H538.57V182.1H541.24V183.2H543.91V184.6H546.58V185.7H549.24V186.8H551.91V191H554.58V195.5H557.25V199.4H559.92V201.6H562.58V203.3H565.25V204.7H567.92V206H570.59V206.9H573.26V207.4H575.92V208H578.59V209.2H581.26V211.1H583.93V213H586.60V214.8H589.26V216.6H591.93V218.4H594.60V220.1H597.27V221.8H599.93V223.5H602.60V224.3H605.27V224.4H607.94V224.6H610.61V223.8H613.27V222.2H615.94V220.6H618.61V219H621.28V217.4H623.95V216H626.61V215.4H629.28V213.8H631.95V212.1H634.62V210.4H637.29V208.8H639.95V207.1H642.62V205.4H645.29V204.1H647.96V202.8H650.63V201.2H653.29V199.6H655.96V198H658.63V196.4H661.30V194.5H663.96V192.5H666.63V190.5H669.30V188.5H671.97V186.5H674.64V184.5H677.30V182.1H679.97V179.7H682.64V176.8H685.31V173.9H687.98V171.6H690.64V169.3H693.31V168.6H695.98V169.4H698.65V170.1H701.32V169.8H703.98V169.4H706.65V168.6H709.32V167.5H711.99V166.5H714.66V164.5H717.32V162.3H719.99V160.2H722.66V158.2H725.33V156.2H727.99V156.5H730.66V159.2H741.33V160.1H744.00V161H746.67V162.2H749.34V163.5H752.01V163.9H754.67V163H757.34V164H760.01V166.5H762.68V168.2H765.35V169.5H768.01V170.8H770.68V172.2H773.35V173.5H776.02V174.8H778.69V176.2H781.35V174.6H784.02V165H786.69V160.2H789.36V156.6H792.02V153.1H794.69V150H797.36V149.5H800.03V148.7H802.70V147.3H805.36V146.4H808.03V145.5H810.70V279.5Z"/>
<path fill="#0070c0" d="M170.40,279.5V279.3H205.08V279.2H277.12V279.1H346.48V279H383.83V277H386.50V274.5H389.17V272.4H391.84V271.6H394.51V270.8H397.17V270H399.84V269.4H410.51V269.3H413.18V269H418.52V269.3H421.18V268.8H423.85V267.5H426.52V266.3H429.19V265.2H431.86V264.4H434.52V263.7H437.19V262.8H439.86V261.5H442.53V260.7H445.20V260.1H447.86V259.5H450.53V258.8H453.20V258H455.87V257.1H458.54V256.3H461.20V255.5H463.87V254.7H466.54V253.9H469.21V250.9H471.87V245.9H479.88V245.6H482.55V244.8H485.21V244H487.88V243.2H490.55V242.7H493.22V242.4H495.89V242.1H498.55V241.8H501.22V241.4H503.89V241.1H506.56V239.8H509.23V234.9H511.89V226.2H514.56V222.6H517.23V216.9H519.90V211.6H522.57V207.6H525.23V204.2H527.90V201.3H530.57V199.1H533.24V197H535.90V195.6H538.57V195.3H541.24V195.7H543.91V196H546.58V197.1H549.24V198.7H551.91V203.7H554.58V207.4H557.25V209.3H559.92V210.6H562.58V211.5H565.25V211.9H567.92V212.4H570.59V212.9H573.26V213.4H575.92V214H578.59V215H581.26V216.3H583.93V217.6H586.60V219.2H589.26V220.8H591.93V222.5H594.60V224.2H597.27V225.8H599.93V227.5H602.60V228.3H605.27V228.5H607.94V228.6H610.61V227.8H613.27V226.2H615.94V224.6H618.61V222.7H621.28V220.7H623.95V219.1H626.61V218.4H629.28V217H631.95V215.5H634.62V214H637.29V212.5H639.95V211H642.62V209.5H645.29V208.1H647.96V206.8H650.63V205.4H653.29V204.1H655.96V202.8H658.63V201.4H661.30V199.5H663.96V197.5H666.63V195.5H669.30V193.8H671.97V192.1H674.64V190.5H677.30V189H679.97V187.6H682.64V185.8H685.31V184H687.98V182.1H690.64V180.2H693.31V179.3H701.32V178.9H703.98V178.4H706.65V177.6H709.32V176.5H711.99V175.5H714.66V174.2H717.32V172.9H719.99V171.4H722.66V169.8H725.33V168.1H727.99V168.6H730.66V171.2H733.33V170.3H736.00V169.3H738.67V168.3H741.33V168.7H744.00V169.1H746.67V170.2H749.34V171.5H752.01V171.8H754.67V170.7H757.34V171.2H760.01V172.8H762.68V173.6H765.35V174H768.01V174.9H770.68V176.2H773.35V177.5H776.02V178.9H778.69V180.2H781.35V179.5H784.02V170H786.69V165.5H789.36V162.7H792.02V159.1H794.69V155.9H797.36V154.8H800.03V153.4H802.70V151.4H805.36V150.4H808.03V149.5H810.70V279.5Z"/>
<path fill="#00b0f0" d="M170.40,279.5V279.3H205.08V279.2H277.12V279.1H346.48V279H383.83V277H386.50V274.5H389.17V272.4H391.84V271.6H394.51V270.8H397.17V270H399.84V269.4H410.51V269.3H413.18V269H418.52V269.3H421.18V268.8H423.85V267.5H426.52V266.3H429.19V265.2H431.86V264.4H434.52V263.9H437.19V263.4H439.86V262.8H442.53V262.4H445.20V262H447.86V261.6H450.53V261.2H453.20V260.7H455.87V260.1H458.54V259.6H461.20V259.1H463.87V258.1H466.54V256.9H469.21V255.7H471.87V254.8H474.54V254H477.21V253.2H479.88V252.6H482.55V251.9H485.21V251.2H487.88V250.6H490.55V249.9H493.22V249.3H495.89V248.7H498.55V248H501.22V247.4H503.89V246.8H506.56V245.9H509.23V244.3H511.89V240H514.56V236H517.23V232.9H519.90V230.2H522.57V227.6H525.23V224.7H527.90V221.7H530.57V216.7H533.24V211.3H535.90V209H538.57V208.1H541.24V208H543.91V207.8H546.58V208.6H549.24V209.8H551.91V213.4H554.58V216.4H557.25V218.3H559.92V219.4H562.58V220.3H565.25V221.1H567.92V221.9H570.59V222.7H573.26V223.5H575.92V224.3H578.59V225.3H581.26V226.5H583.93V227.7H586.60V229H589.26V230.3H591.93V231.7H594.60V232.6H597.27V233.1H599.93V233.6H602.60V233.9H610.61V233.4H613.27V232.4H615.94V231.5H618.61V230.2H621.28V228.9H623.95V228H626.61V228.4H629.28V227.5H631.95V226.5H634.62V225.5H637.29V225.1H639.95V224.8H642.62V224.4H645.29V223.6H647.96V222.7H650.63V221.9H653.29V221.1H655.96V220.3H658.63V219.5H661.30V217.9H663.96V216.2H666.63V214.5H669.30V212.9H671.97V211.2H674.64V209.5H677.30V207.6H679.97V205.7H682.64V203.9H685.31V202.1H687.98V200.6H690.64V199.1H693.31V198.3H701.32V197.9H703.98V197.5H706.65V196.9H709.32V196.2H711.99V195.5H714.66V194.7H717.32V193.8H719.99V192.7H722.66V191.4H725.33V190H727.99V190.6H730.66V193.3H733.33V192.7H736.00V192H738.67V191.4H741.33V190.9H744.00V190.5H746.67V191.3H749.34V192.6H752.01V192.9H754.67V191.8H757.34V192H760.01V193H762.68V193.7H765.35V194.1H768.01V194.9H770.68V196.3H773.35V197.7H776.02V199.5H778.69V201.2H781.35V200.6H784.02V193H786.69V189.6H789.36V186.9H792.02V184.2H794.69V181.6H797.36V180.1H800.03V178.8H802.70V177.4H805.36V176.9H808.03V176.4H810.70V279.5Z"/>
<path fill="#7030a0" d="M170.40,279.5V284.3H173.07V284.5H175.74V284.6H178.40V284.8H181.07V284.9H202.42V285H221.09V285.1H237.10V285.2H245.10V285.3H255.77V285.4H263.78V285.5H266.45V285.6H269.11V285.8H271.78V285.9H274.45V286.1H277.12V286.3H279.78V286.4H282.45V286.5H285.12V286.6H287.79V286.7H290.46V286.8H293.12V286.9H295.79V287H301.13V287.1H306.46V287.2H311.80V287.3H317.14V287.4H319.80V287.5H325.14V287.6H330.48V287.8H333.14V288H335.81V288.3H338.48V288.6H341.15V288.9H343.81V289.1H346.48V289.4H351.82V289.1H354.49V288.9H357.15V288.6H359.82V288.4H362.49V288.3H375.83V288.6H378.50V289H381.17V289.5H383.83V289.9H386.50V290.8H389.17V292.1H391.84V293.4H394.51V294.4H397.17V295.5H399.84V296.7H402.51V297H405.18V297.6H407.84V298.9H410.51V300.3H413.18V301.6H415.85V304.5H418.52V310.4H421.18V316.5H423.85V319.1H426.52V319H429.19V318H431.86V317.2H434.52V316.5H437.19V314H439.86V313.2H442.53V312.9H445.20V312.3H447.86V311.6H450.53V311H453.20V311.1H455.87V311.7H458.54V312.2H461.20V312.7H463.87V313.3H466.54V313.8H469.21V320.1H471.87V325.3H474.54V325.6H477.21V325.8H479.88V326.1H482.55V326.7H485.21V327.3H487.88V328H490.55V327.8H493.22V327.3H495.89V326.8H498.55V326.2H501.22V326.8H503.89V327.5H506.56V328.1H509.23V336.1H511.89V343.9H514.56V350.6H517.23V357.3H519.90V363.7H522.57V369.7H525.23V374.5H527.90V378.9H530.57V382.9H533.24V387.5H535.90V390.6H538.57V391H541.24V390.1H543.91V389H546.58V387.9H549.24V386.3H551.91V381.8H554.58V377.9H557.25V375.2H559.92V372.5H562.58V369.9H565.25V367.2H567.92V365.2H570.59V363.3H573.26V361.4H575.92V359.5H578.59V358.6H581.26V356.3H583.93V354H586.60V351.9H589.26V350.3H591.93V348.6H594.60V346.9H597.27V345.3H599.93V343.8H602.60V342.7H605.27V342.2H610.61V342.3H613.27V343.9H615.94V345.6H618.61V347.9H621.28V350.3H623.95V352.4H626.61V354.4H629.28V356.4H631.95V358.8H634.62V361.1H637.29V363H639.95V364.7H642.62V366.3H645.29V368H647.96V369.7H650.63V370.9H653.29V371.9H655.96V373H658.63V374.7H661.30V376.3H663.96V378.4H666.63V380.6H669.30V383.1H671.97V385.8H674.64V388.3H677.30V390.8H679.97V393.3H682.64V395.8H685.31V398.3H687.98V400.7H690.64V403.2H693.31V403.4H703.98V404.6H706.65V405.8H709.32V407.1H711.99V408.4H714.66V410.7H717.32V413.5H719.99V416H722.66V418.2H725.33V420.3H727.99V420.2H730.66V419.1H733.33V417.9H736.00V416.8H738.67V416.1H741.33V415.6H744.00V415.1H746.67V415H760.01V414.2H762.68V413.3H765.35V412.5H768.01V411.2H770.68V409.6H773.35V408H776.02V406.6H778.69V405.3H781.35V407.4H784.02V415.4H786.69V422.8H789.36V425.5H792.02V428.1H794.69V430.8H797.36V433.5H800.03V436.1H802.70V437H805.36V437.8H808.03V438.7H810.70V279.5Z"/>
<path fill="#dce6f2" d="M170.40,279.5V282H197.08V282.1H253.11V282.2H285.12V282.3H293.12V282.4H295.79V282.6H298.46V282.7H383.83V282.8H386.50V284.5H389.17V285.7H391.84V286.7H394.51V287.3H397.17V287.9H399.84V287.2H402.51V288H405.18V288.7H407.84V289.5H410.51V290.3H413.18V291H415.85V293.7H418.52V298.7H421.18V302.9H423.85V305.7H426.52V306.2H429.19V306.5H431.86V306H434.52V305H437.19V304.2H439.86V303.7H442.53V303.8H445.20V304.3H447.86V303.8H450.53V302.7H453.20V303.2H455.87V304.2H458.54V304.7H461.20V305H463.87V305.2H466.54V305.5H469.21V312.9H471.87V313.8H474.54V314.7H477.21V315.2H479.88V315.6H482.55V316H485.21V316.4H487.88V316.8H493.22V316.5H495.89V316.2H498.55V316H501.22V316.6H503.89V317.2H506.56V317.9H509.23V323.9H511.89V329.9H514.56V335.1H517.23V341.6H519.90V347.7H522.57V352.9H525.23V357H527.90V361H530.57V364.9H533.24V370H535.90V374H538.57V375.8H541.24V375.3H543.91V374.2H546.58V372.8H549.24V371.2H551.91V368H554.58V364.9H557.25V361.7H559.92V358.6H562.58V355.6H565.25V352.5H567.92V349.5H570.59V347.8H573.26V346.8H575.92V345.7H578.59V344.6H581.26V343H583.93V341.5H586.60V340.4H589.26V339.2H591.93V337.6H594.60V335.9H597.27V333.7H599.93V331.6H602.60V330.2H605.27V330.3H607.94V330.4H610.61V330.7H613.27V331.1H615.94V332.8H618.61V335H621.28V336.4H623.95V337.9H626.61V339.6H629.28V341.4H631.95V343.7H634.62V346.1H637.29V348.2H639.95V350.2H642.62V352.2H645.29V354.2H647.96V356.2H650.63V357.8H653.29V359.1H655.96V360.5H658.63V362.1H661.30V363.8H663.96V365.5H666.63V367.3H669.30V369.4H671.97V371.7H674.64V375.5H677.30V379.5H679.97V383.5H682.64V386.2H685.31V388.3H687.98V390.4H690.64V392.5H693.31V393H695.98V393.4H698.65V393.7H701.32V394H703.98V394.6H706.65V395.3H709.32V395.9H711.99V396.5H714.66V397.7H717.32V399.2H719.99V400.7H722.66V402.3H725.33V403.9H727.99V404.2H730.66V403.8H733.33V403.4H736.00V403H738.67V402.6H741.33V402.1H744.00V401.6H746.67V401H749.34V400.4H752.01V399.8H754.67V399.1H757.34V398.5H760.01V397.7H762.68V396.8H765.35V395.9H768.01V394.9H770.68V393.9H773.35V392.8H776.02V392H778.69V391.3H781.35V395.3H784.02V406H786.69V412.3H789.36V414.9H792.02V417.2H794.69V419H797.36V420.8H800.03V422.5H802.70V423H805.36V423.4H808.03V423.8H810.70V279.5Z"/>
<path fill="#c00000" d="M170.40,279.5V280.7H186.41V280.6H215.75V280.5H245.10V280.4H274.45V280.3H287.79V280.2H290.46V280.1H383.83V280.3H386.50V282.3H389.17V283.8H391.84V285.2H394.51V286.2H397.17V287.1H399.84V286.6H402.51V287.4H405.18V288.2H407.84V289H410.51V289.8H413.18V290.6H415.85V292.8H418.52V297.1H421.18V301.1H423.85V303.9H426.52V304.4H429.19V304.7H431.86V304.2H434.52V303.2H437.19V302.4H439.86V301.9H442.53V302H445.20V302.5H447.86V302H450.53V300.9H453.20V301.4H455.87V302.4H458.54V302.9H461.20V303.2H463.87V303.4H466.54V303.7H469.21V311.1H471.87V312H474.54V312.9H477.21V313.4H479.88V313.8H482.55V314.2H485.21V314.6H487.88V315H493.22V314.7H495.89V314.4H498.55V314.2H501.22V314.8H503.89V315.4H506.56V316.1H509.23V322.1H511.89V328.1H514.56V333.5H517.23V340H519.90V346.1H522.57V351.5H525.23V355.6H527.90V359.6H530.57V363.6H533.24V368.8H535.90V372.9H538.57V374.9H541.24V374.6H543.91V373.7H546.58V372.4H549.24V370.8H551.91V367.8H554.58V364.7H557.25V361.7H559.92V358.6H562.58V355.6H565.25V352.5H567.92V349.5H570.59V347.8H573.26V346.8H575.92V345.7H578.59V344.6H581.26V343H583.93V341.5H586.60V340.4H589.26V339.2H591.93V337.6H594.60V335.9H597.27V333.7H599.93V331.6H602.60V330.2H605.27V330.3H607.94V330.4H610.61V330.7H613.27V331.1H615.94V332.8H618.61V335H621.28V336.4H623.95V337.9H626.61V339.6H629.28V341.4H631.95V343.7H634.62V346.1H637.29V348.2H639.95V350.2H642.62V352.2H645.29V354.2H647.96V356.2H650.63V357.8H653.29V359.1H655.96V360.5H658.63V362.1H661.30V363.8H663.96V365.5H666.63V367.3H669.30V369.4H671.97V371.7H674.64V375.5H677.30V379.5H679.97V383.5H682.64V386.2H685.31V388.3H687.98V390.4H690.64V392.5H693.31V393H695.98V393.4H698.65V393.7H701.32V394H703.98V394.6H706.65V395.3H709.32V395.9H711.99V396.5H714.66V397.7H717.32V399.2H719.99V400.7H722.66V402.3H725.33V403.9H727.99V404.2H730.66V403.8H733.33V403.4H736.00V403H738.67V402.6H741.33V402.1H744.00V401.6H746.67V401H749.34V400.4H752.01V399.8H754.67V399.1H757.34V398.5H760.01V397.7H762.68V396.8H765.35V395.9H768.01V394.9H770.68V393.9H773.35V392.8H776.02V392H778.69V391.3H781.35V395.3H784.02V406H786.69V412.3H789.36V414.9H792.02V417.2H794.69V419H797.36V420.8H800.03V422.5H802.70V423H805.36V423.4H808.03V423.8H810.70V279.5Z"/>
<path fill="#00b050" d="M170.40,279.5V280.7H186.41V280.6H215.75V280.5H245.10V280.4H274.45V280.3H287.79V280.2H290.46V280.1H383.83V280.3H386.50V282.3H389.17V283.8H391.84V285.2H394.51V286.2H397.17V287.1H399.84V286.4H402.51V287.2H405.18V288H407.84V288.8H410.51V289.6H413.18V290.4H415.85V292.6H418.52V296.9H421.18V300.8H423.85V303.6H426.52V304.1H429.19V304.4H431.86V303.9H434.52V302.9H437.19V302.1H439.86V301.6H442.53V301.7H445.20V302.2H447.86V301.7H450.53V300.6H453.20V301H455.87V302.1H458.54V302.6H461.20V302.9H463.87V303.1H466.54V303.4H469.21V310.3H471.87V311.2H474.54V312.1H477.21V312.6H479.88V313H482.55V313.4H485.21V313.7H487.88V314H493.22V313.7H495.89V313.4H498.55V313.2H501.22V313.8H503.89V314.4H506.56V315.1H509.23V321.2H511.89V327.3H514.56V332.7H517.23V339.2H519.90V345.3H522.57V350.7H525.23V354.8H527.90V358.8H530.57V362.8H533.24V368H535.90V372.1H538.57V374.1H541.24V373.8H543.91V372.9H546.58V371.6H549.24V370H551.91V367H554.58V364H557.25V361H559.92V358H562.58V355H565.25V352H567.92V349H570.59V347.4H573.26V346.4H575.92V345.3H578.59V344.2H581.26V342.6H583.93V341.1H586.60V340H589.26V338.8H591.93V337.2H594.60V335.5H597.27V333.3H599.93V331.2H602.60V329.7H605.27V329.8H607.94V329.9H610.61V330.2H613.27V330.6H615.94V332.3H618.61V334.5H621.28V335.9H623.95V337.4H626.61V339.3H629.28V340.9H631.95V341.9H634.62V342.8H637.29V343.8H639.95V344.8H642.62V345.8H645.29V346.6H647.96V347.4H650.63V348.4H653.29V349.4H655.96V350.5H658.63V351.4H661.30V352.4H663.96V353.4H666.63V354.6H669.30V359.9H671.97V361.5H674.64V362.8H677.30V364.1H679.97V365.3H682.64V366.7H685.31V368.1H687.98V369.5H690.64V370.9H693.31V371.5H695.98V372.1H698.65V372.6H701.32V373.1H703.98V372.6H706.65V372H709.32V371.4H711.99V370.7H714.66V372H717.32V374.1H719.99V375.4H722.66V375.7H725.33V376.1H727.99V376.4H730.66V376.7H746.67V376.4H749.34V376H752.01V375.6H754.67V375.1H757.34V374.7H760.01V374H762.68V373.3H765.35V372.6H768.01V371.6H770.68V370.2H773.35V368.8H776.02V368H778.69V367.4H781.35V367.7H784.02V377.6H786.69V385.1H789.36V387.4H792.02V389H794.69V389.7H797.36V390.3H800.03V390.9H802.70V391.2H805.36V391.4H808.03V391.7H810.70V279.5Z"/>
<path fill="#ff0000" d="M170.40,279.5V280.7H186.41V280.6H215.75V280.5H245.10V280.4H274.45V280.3H287.79V280.2H290.46V280.1H383.83V280.3H386.50V282.3H389.17V283.7H391.84V285H394.51V285.8H397.17V286.6H399.84V285.9H402.51V286.7H405.18V287.4H407.84V287.9H410.51V288.6H413.18V289.4H415.85V290.4H418.52V291.7H421.18V295H423.85V299.4H426.52V299.1H429.19V297.8H431.86V296.3H434.52V294.7H437.19V293.3H439.86V293.1H442.53V294.8H445.20V296.2H447.86V297.1H450.53V296.7H453.20V296.8H455.87V297.1H458.54V297.4H461.20V297.6H463.87V298.1H466.54V298.6H469.21V302.2H471.87V304.8H474.54V305.5H477.21V303.2H479.88V300.8H482.55V300.2H485.21V299.8H487.88V299.4H490.55V299.5H493.22V299.8H495.89V300.1H498.55V300.4H501.22V300.7H503.89V301H506.56V301.3H509.23V309.6H511.89V317.8H514.56V324.5H517.23V330.6H519.90V336.6H522.57V342.6H525.23V347.2H527.90V351.6H530.57V356.1H533.24V360.5H535.90V364.1H538.57V366.1H541.24V366.3H543.91V365.9H546.58V364.5H549.24V363.1H551.91V360.4H554.58V357.7H557.25V355.1H559.92V352.4H562.58V349.7H565.25V347.1H567.92V344.4H570.59V342.8H573.26V341.6H575.92V340.4H578.59V339.2H581.26V338H583.93V336.8H586.60V335.6H589.26V334.4H591.93V333H594.60V331.7H597.27V330.3H599.93V328.3H602.60V327.9H605.27V328.2H607.94V328.5H610.61V329H613.27V329.5H615.94V331.5H618.61V333.9H621.28V335.4H623.95V336.9H626.61V338.8H629.28V340.4H631.95V341.4H634.62V342.3H637.29V343.3H639.95V344.3H642.62V345.3H645.29V346.1H647.96V346.9H650.63V347.9H653.29V348.9H655.96V350H658.63V350.9H661.30V351.9H663.96V352.9H666.63V354.1H669.30V359.3H671.97V361H674.64V362.3H677.30V363.5H679.97V364.8H682.64V366.2H685.31V367.7H687.98V369.2H690.64V370.6H693.31V371.3H695.98V371.9H698.65V372.5H701.32V373.1H703.98V372.6H706.65V372H709.32V371.4H711.99V370.7H714.66V372H717.32V374.1H719.99V375.4H722.66V375.7H725.33V376.1H727.99V376.4H730.66V376.7H746.67V376.4H749.34V376H752.01V375.6H754.67V375.1H757.34V374.7H760.01V374H762.68V373.3H765.35V372.6H768.01V371.6H770.68V370.2H773.35V368.8H776.02V368H778.69V367.4H781.35V367.7H784.02V377.6H786.69V385.1H789.36V387.4H792.02V389H794.69V389.7H797.36V390.3H800.03V390.9H802.70V391.2H805.36V391.4H808.03V391.7H810.70V279.5Z"/>
<path fill="#bfbfbf" d="M170.40,279.5V280.7H186.41V280.6H215.75V280.5H245.10V280.4H274.45V280.3H287.79V280.2H290.46V280.1H386.50V280.4H389.17V280.7H391.84V281H394.51V281.3H397.17V281.6H399.84V281.5H402.51V281.7H405.18V281.9H407.84V282.1H410.51V282.4H413.18V282.9H415.85V283.6H418.52V284.4H421.18V285.7H423.85V287.5H426.52V288.8H429.19V289.3H434.52V288.7H437.19V288.8H439.86V289.3H442.53V289.9H445.20V290.4H447.86V290.2H450.53V289.7H453.20V289.9H455.87V290.4H458.54V291H461.20V291.5H463.87V293.1H466.54V294.9H469.21V301.7H471.87V304.8H474.54V305.5H477.21V303.2H479.88V300.8H482.55V299.6H485.21V299H487.88V298.3H490.55V298.1H501.22V298.7H503.89V299.4H506.56V300H509.23V307.3H511.89V313.2H514.56V315.9H517.23V321.5H519.90V327.3H522.57V332.6H525.23V339.7H527.90V346.3H530.57V351.6H533.24V357.5H535.90V362.1H538.57V364.1H541.24V363.8H543.91V362.4H546.58V359.7H549.24V357.1H551.91V354.8H554.58V352.6H557.25V350.3H559.92V348.1H562.58V345.8H565.25V343.6H567.92V341.3H570.59V340.1H573.26V339.3H575.92V337.8H578.59V336.2H581.26V335.1H583.93V334.1H586.60V333H589.26V331.9H591.93V330.5H594.60V329.2H597.27V327.9H599.93V324.8H602.60V323.7H605.27V324.6H607.94V325.4H610.61V326H613.27V326.5H615.94V326.8H618.61V327.1H621.28V327.4H623.95V328.3H626.61V329.9H629.28V331.5H631.95V333.1H634.62V334.6H637.29V336H639.95V337.4H642.62V338.6H645.29V339.6H647.96V340.6H650.63V341.7H653.29V342.7H655.96V343.7H658.63V344.7H661.30V345.7H663.96V347H666.63V348.5H669.30V353.5H671.97V355.7H674.64V357.6H677.30V359.5H679.97V361.4H682.64V363.5H685.31V365.6H687.98V367.7H690.64V369.8H693.31V370.6H695.98V371.3H698.65V371.9H701.32V372.6H703.98V372.1H706.65V371.5H709.32V370.8H711.99V370.2H714.66V370.9H717.32V372.2H719.99V373.3H722.66V374.2H725.33V375H727.99V375.9H730.66V376.1H733.33V376.4H736.00V376.7H738.67V376.5H741.33V376.2H744.00V375.9H746.67V375.5H749.34V375.1H752.01V374.7H754.67V374.2H757.34V373.8H760.01V373.1H762.68V372.4H765.35V371.7H768.01V370.4H770.68V368.2H773.35V366.1H776.02V364.9H778.69V364.2H781.35V367.7H784.02V377.6H786.69V384.2H789.36V386.5H792.02V388.1H794.69V388.8H797.36V389.4H800.03V390H802.70V390.3H805.36V390.5H808.03V390.8H810.70V279.5Z"/>
<path fill="#92d050" d="M170.40,279.5V280H229.09V279.9H290.46V279.8H386.50V280.1H389.17V280.5H391.84V280.8H394.51V281.1H397.17V281.4H399.84V281.3H402.51V281.5H405.18V281.7H407.84V281.9H410.51V282.2H413.18V282.7H415.85V283.4H418.52V284.2H421.18V285.4H423.85V287.3H426.52V288.5H429.19V289.1H434.52V288.5H437.19V288.6H439.86V289.1H442.53V289.7H445.20V290.2H447.86V290H450.53V289.5H453.20V289.7H455.87V290.2H458.54V290.8H461.20V291.3H463.87V292.9H466.54V294.7H469.21V295.2H471.87V295.6H474.54V296.1H477.21V295.2H479.88V294.3H482.55V293.6H485.21V292.9H487.88V292.3H490.55V292.1H501.22V292.7H503.89V293.3H506.56V294H509.23V300.7H511.89V306.2H514.56V308.9H517.23V314.5H519.90V320.5H522.57V326.5H525.23V334.3H527.90V341H530.57V345.7H533.24V351.5H535.90V356H538.57V358H541.24V357.7H543.91V356.3H546.58V353.7H549.24V351H551.91V348.7H554.58V346.4H557.25V344.1H559.92V341.8H562.58V339.4H565.25V337.1H567.92V334.8H570.59V333.8H573.26V333.2H575.92V331.8H578.59V330.2H581.26V329.1H583.93V328H586.60V326.7H589.26V325.4H591.93V324.3H594.60V323H597.27V321.1H599.93V319.7H602.60V319.2H605.27V319.7H607.94V320H610.61V320.3H613.27V320.5H615.94V320.6H621.28V320.3H623.95V320.7H626.61V322H629.28V323.6H631.95V325.7H634.62V327.8H637.29V329.3H639.95V330.7H642.62V332H645.29V333.2H647.96V334.4H650.63V335.5H653.29V336.7H655.96V337.8H658.63V338.8H661.30V339.8H663.96V341.3H666.63V343.1H669.30V344.8H671.97V346.6H674.64V349.2H677.30V351.8H679.97V354.5H682.64V356.5H685.31V358.3H687.98V360H690.64V361.8H693.31V362.6H695.98V363.2H698.65V363.9H701.32V364.6H703.98V364.2H706.65V363.8H709.32V363.3H711.99V362.9H714.66V363.5H717.32V364.7H719.99V365.8H722.66V366.9H725.33V368H727.99V368.9H730.66V369.2H733.33V369.5H736.00V369.7H741.33V369.5H744.00V369.3H746.67V369H749.34V368.7H752.01V368.4H754.67V368.1H757.34V367.8H760.01V367.1H762.68V366.4H765.35V365.7H768.01V364.4H770.68V362.5H773.35V360.6H776.02V359.6H778.69V359H781.35V362.3H784.02V371.4H786.69V377.5H789.36V379.3H792.02V380.6H794.69V381.4H797.36V382.1H800.03V382.8H810.70V279.5Z"/>
<path fill="#ed7d31" d="M170.40,279.5V279.5H391.84V279.6H394.51V279.7H397.17V279.8H402.51V279.9H410.51V280H415.85V280.1H421.18V280.5H423.85V281.2H426.52V282H429.19V282.7H431.86V282.9H434.52V282.7H437.19V282.4H439.86V282.1H442.53V282.3H445.20V282.7H447.86V283.1H450.53V283.5H455.87V283.4H458.54V283.2H461.20V283.1H463.87V283.7H466.54V284.5H469.21V286H471.87V287.6H474.54V288.7H477.21V286.7H479.88V285.9H482.55V285.4H485.21V284.4H487.88V283.4H490.55V283.2H493.22V283.5H495.89V283.7H498.55V284H501.22V284.2H503.89V284.4H506.56V284.6H509.23V290.4H511.89V296.7H514.56V300.7H517.23V307.1H519.90V313.2H522.57V318.6H525.23V325.1H527.90V330.7H530.57V334.7H533.24V339.9H535.90V344.5H538.57V347.8H541.24V347.7H543.91V346.5H546.58V344.2H549.24V342.1H551.91V340.3H554.58V338.5H557.25V336.7H559.92V335H562.58V333.2H565.25V331.4H567.92V329.6H570.59V328.9H573.26V328.7H575.92V327.3H578.59V325.7H581.26V324.9H583.93V324H586.60V322.4H589.26V320.9H591.93V320.1H594.60V319H597.27V317.1H599.93V315.3H602.60V314.4H605.27V315.3H607.94V316.3H610.61V316.8H613.27V317H615.94V316.5H618.61V315.7H621.28V315H623.95V315.2H626.61V316.9H629.28V318.5H631.95V320.3H634.62V322H637.29V323.5H639.95V324.8H642.62V326.2H645.29V327.5H647.96V328.8H650.63V329.9H653.29V330.9H655.96V331.9H658.63V332.9H661.30V333.9H663.96V335.4H666.63V337.2H669.30V339.7H671.97V342.3H674.64V344.7H677.30V347H679.97V349.3H682.64V351.2H685.31V352.9H687.98V354.7H690.64V356.4H693.31V357.2H695.98V357.9H698.65V358.5H701.32V359.2H703.98V359H706.65V358.7H709.32V358.4H711.99V358H714.66V358.8H717.32V360.1H719.99V361.4H722.66V362.5H725.33V363.7H727.99V364.7H730.66V365.1H733.33V365.5H736.00V365.8H741.33V365.6H744.00V365.4H746.67V365.1H749.34V364.8H752.01V364.5H754.67V364.2H757.34V363.8H760.01V363.3H762.68V362.7H765.35V362H768.01V360.8H770.68V358.9H773.35V357H776.02V355.9H778.69V355.2H781.35V358.2H784.02V366.6H786.69V371.5H789.36V373.3H792.02V374.5H794.69V375H797.36V375.4H800.03V375.8H810.70V279.5Z"/>
<path fill="#ffff00" d="M170.40,279.5V279.5H391.84V279.6H394.51V279.7H397.17V279.8H402.51V279.9H410.51V280H415.85V280.1H421.18V280.5H423.85V281.2H426.52V282H429.19V282.7H431.86V282.9H434.52V282.7H437.19V282.4H439.86V282.1H442.53V282.3H445.20V282.7H447.86V283.1H450.53V283.5H455.87V283.4H458.54V283.2H461.20V283.1H463.87V283.7H466.54V284.5H469.21V286H471.87V287.6H474.54V288.7H477.21V286.7H479.88V285.9H482.55V285.4H485.21V284.4H487.88V283.4H490.55V283.2H493.22V283.5H495.89V283.7H498.55V284H501.22V284.2H503.89V284.4H506.56V284.6H509.23V286.7H511.89V288.9H514.56V290.9H517.23V292.9H519.90V295.3H522.57V298.4H525.23V301.6H527.90V305.6H530.57V309.6H533.24V313.2H535.90V316.8H538.57V319.6H541.24V321.4H543.91V319.9H546.58V318.5H549.24V317H551.91V315.6H554.58V314.3H557.25V312.9H559.92V311.5H562.58V310.2H565.25V308.8H567.92V307.4H570.59V306.9H573.26V306.6H575.92V305.9H578.59V305.1H581.26V304H583.93V303H586.60V302.5H589.26V301.9H591.93V301.4H594.60V301H597.27V300.7H599.93V300.3H602.60V299.8H605.27V299.4H607.94V299.1H610.61V298.8H613.27V298.6H615.94V298.5H626.61V299.1H629.28V299.8H631.95V301H634.62V302.2H637.29V303.4H639.95V303.9H642.62V304.5H645.29V305H647.96V305.5H650.63V306.1H653.29V306.6H655.96V307.1H658.63V307.7H661.30V308.2H663.96V308.7H666.63V309.3H669.30V309.8H671.97V310.6H674.64V311.5H677.30V312.5H679.97V313.5H682.64V314H685.31V314.3H687.98V314.7H690.64V315H693.31V315.3H695.98V315.6H698.65V315.9H701.32V316.2H703.98V316.4H706.65V316.7H709.32V316.9H711.99V317.2H714.66V317.7H717.32V318.3H719.99V318.7H722.66V318.9H725.33V319.1H727.99V319.3H730.66V319.5H733.33V319.7H736.00V319.8H738.67V319.9H741.33V320H744.00V320.1H749.34V319.9H752.01V319.8H754.67V319.7H757.34V319.6H760.01V319.1H762.68V318.5H765.35V317.9H768.01V317.3H770.68V316.7H773.35V316.5H778.69V316.9H781.35V317.4H784.02V318.1H786.69V319.5H789.36V320.8H792.02V322H794.69V322.9H797.36V323.8H800.03V324.7H802.70V325.9H805.36V327H808.03V328.2H810.70V279.5Z"/>
</g>
<g clip-path="url(#cp)" stroke="#ffffff" stroke-width="1" opacity="0.14"><line x1="479.5" y1="100" x2="479.5" y2="460"/><line x1="556.5" y1="100" x2="556.5" y2="460"/><line x1="656.5" y1="100" x2="656.5" y2="460"/><line x1="724.5" y1="100" x2="724.5" y2="460"/><line x1="732.5" y1="100" x2="732.5" y2="460"/><line x1="740.5" y1="100" x2="740.5" y2="460"/><line x1="746.5" y1="100" x2="746.5" y2="460"/><line x1="756.5" y1="100" x2="756.5" y2="460"/><line x1="761.5" y1="100" x2="761.5" y2="460"/><line x1="772.5" y1="100" x2="772.5" y2="460"/><line x1="778.5" y1="100" x2="778.5" y2="460"/><line x1="785.5" y1="100" x2="785.5" y2="460"/><line x1="794.5" y1="100" x2="794.5" y2="460"/></g>
<line x1="172.3" y1="279.5" x2="810.7" y2="279.5" stroke="#dfe6ee" stroke-width="0.9" opacity="0.85"/>
<g font-size="11.4" fill="#4d4d4d">
<text x="160.4" y="89.90" text-anchor="end">2000</text>
<text x="160.4" y="138.32" text-anchor="end">1500</text>
<text x="160.4" y="186.75" text-anchor="end">1000</text>
<text x="160.4" y="235.17" text-anchor="end">500</text>
<text x="160.4" y="283.60" text-anchor="end">0</text>
<text x="160.4" y="332.03" text-anchor="end">-500</text>
<text x="160.4" y="380.45" text-anchor="end">-1000</text>
<text x="160.4" y="428.88" text-anchor="end">-1500</text>
<text x="160.4" y="477.30" text-anchor="end">-2000</text>
<text x="172.20" y="491.7" text-anchor="middle">2001</text>
<text x="204.13" y="491.7" text-anchor="middle">2002</text>
<text x="236.07" y="491.7" text-anchor="middle">2003</text>
<text x="268.00" y="491.7" text-anchor="middle">2004</text>
<text x="299.94" y="491.7" text-anchor="middle">2005</text>
<text x="331.88" y="491.7" text-anchor="middle">2006</text>
<text x="363.81" y="491.7" text-anchor="middle">2007</text>
<text x="395.75" y="491.7" text-anchor="middle">2008</text>
<text x="427.68" y="491.7" text-anchor="middle">2009</text>
<text x="459.62" y="491.7" text-anchor="middle">2010</text>
<text x="491.55" y="491.7" text-anchor="middle">2011</text>
<text x="523.49" y="491.7" text-anchor="middle">2012</text>
<text x="555.42" y="491.7" text-anchor="middle">2013</text>
<text x="587.36" y="491.7" text-anchor="middle">2014</text>
<text x="619.29" y="491.7" text-anchor="middle">2015</text>
<text x="651.23" y="491.7" text-anchor="middle">2016</text>
<text x="683.16" y="491.7" text-anchor="middle">2017</text>
<text x="715.10" y="491.7" text-anchor="middle">2018</text>
<text x="747.03" y="491.7" text-anchor="middle">2019</text>
<text x="778.97" y="491.7" text-anchor="middle">2020</text>
</g>
<g font-size="13.2" fill="#454545">
<rect x="140.5" y="512" width="7.4" height="7.4" fill="#00b0f0"/>
<text x="150.6" y="520.1" textLength="17.5" lengthAdjust="spacingAndGlyphs">DE</text>
<rect x="175.6" y="512" width="7.4" height="7.4" fill="#0070c0"/>
<text x="185.7" y="520.1" textLength="15.8" lengthAdjust="spacingAndGlyphs">LU</text>
<rect x="209" y="512" width="7.4" height="7.4" fill="#002060"/>
<text x="219" y="520.1" textLength="15.8" lengthAdjust="spacingAndGlyphs">NL</text>
<rect x="242.4" y="512" width="7.4" height="7.4" fill="#ffc000"/>
<text x="252.9" y="520.1" textLength="10" lengthAdjust="spacingAndGlyphs">FI</text>
<rect x="271.7" y="512" width="7.4" height="7.4" fill="#ffff00"/>
<text x="281.7" y="520.1" textLength="16.8" lengthAdjust="spacingAndGlyphs">ES</text>
<rect x="306.8" y="512" width="7.4" height="7.4" fill="#ed7d31"/>
<text x="316.8" y="520.1" textLength="8.8" lengthAdjust="spacingAndGlyphs">IT</text>
<rect x="334.4" y="512" width="7.4" height="7.4" fill="#92d050"/>
<text x="344.4" y="520.1" textLength="18.8" lengthAdjust="spacingAndGlyphs">GR</text>
<rect x="372" y="512" width="7.4" height="7.4" fill="#bfbfbf"/>
<text x="381.3" y="520.1" textLength="16.3" lengthAdjust="spacingAndGlyphs">PT</text>
<rect x="404.6" y="512" width="7.4" height="7.4" fill="#ff0000"/>
<text x="414.7" y="520.1" textLength="17.5" lengthAdjust="spacingAndGlyphs">FR</text>
<rect x="439" y="512" width="7.4" height="7.4" fill="#00b050"/>
<text x="449" y="520.1" textLength="11.3" lengthAdjust="spacingAndGlyphs">IE</text>
<rect x="467.8" y="512" width="7.4" height="7.4" fill="#c00000"/>
<text x="478.4" y="520.1" textLength="26.6" lengthAdjust="spacingAndGlyphs">BCE</text>
<rect x="512.2" y="512" width="7.4" height="7.4" fill="#dce6f2"/>
<text x="522.5" y="520.1" textLength="128.4" lengthAdjust="spacingAndGlyphs">Autres pays créditeurs</text>
<rect x="658.5" y="512" width="7.4" height="7.4" fill="#7030a0"/>
<text x="668.2" y="520.1" textLength="135" lengthAdjust="spacingAndGlyphs">Autres pays déficitaires</text>
</g>
<text x="131.3" y="552.2" font-size="20.3" font-style="italic" fill="#000" textLength="122" lengthAdjust="spacingAndGlyphs">Source : BCE.</text>
</svg>
</body></html>
